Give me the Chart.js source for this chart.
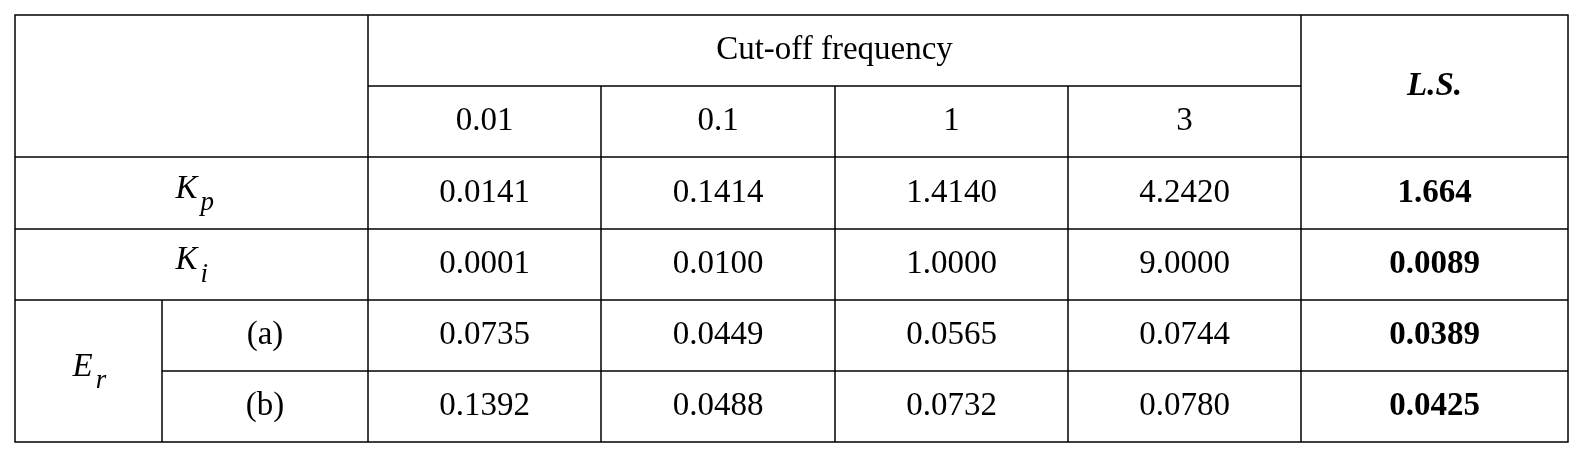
<!DOCTYPE html>
<html>
<head>
<meta charset="utf-8">
<script src="https://cdn.jsdelivr.net/npm/chart.js@4/dist/chart.umd.min.js"></script>
<style>
  html, body { margin: 0; padding: 0; background: #fff; overflow: hidden; }
  #wrap { width: 1585px; height: 450px; position: relative; }
</style>
</head>
<body>
<div id="wrap"><canvas id="tbl" width="1585" height="450"></canvas></div>
<script>
// table data
const frequencies = ['0.01', '0.1', '1', '3'];
const kpValues = ['0.0141', '0.1414', '1.4140', '4.2420'];
const kiValues = ['0.0001', '0.0100', '1.0000', '9.0000'];
const erAValues = ['0.0735', '0.0449', '0.0565', '0.0744'];
const erBValues = ['0.1392', '0.0488', '0.0732', '0.0780'];
const lsValues = ['1.664', '0.0089', '0.0389', '0.0425'];

// grid edges in scale units
const colEdges = [15, 162, 368, 601, 835, 1068, 1301, 1568];
const rowEdges = [15, 86, 157, 229, 300, 371, 442];

const serif = '"Liberation Serif", "DejaVu Serif", serif';

const tablePlugin = {
    id: 'tablePlugin',
    afterDraw(chart) {
        const ctx = chart.ctx;
        const X = v => chart.scales.x.getPixelForValue(v);
        const Y = v => chart.scales.y.getPixelForValue(v);
        const cx = (a, b) => (X(colEdges[a]) + X(colEdges[b])) / 2;
        const cy = (a, b) => (Y(rowEdges[a]) + Y(rowEdges[b])) / 2;

        ctx.save();
        ctx.strokeStyle = '#000';
        ctx.lineWidth = 1.5;
        function line(x1, y1, x2, y2) {
            ctx.beginPath();
            ctx.moveTo(X(x1), Y(y1));
            ctx.lineTo(X(x2), Y(y2));
            ctx.stroke();
        }
        const L = colEdges[0], R = colEdges[7], T = rowEdges[0], B = rowEdges[6];
        ctx.strokeRect(X(L), Y(T), X(R) - X(L), Y(B) - Y(T));
        line(colEdges[2], T, colEdges[2], B);
        line(colEdges[6], T, colEdges[6], B);
        line(colEdges[2], rowEdges[1], colEdges[6], rowEdges[1]);
        for (let c = 3; c <= 5; c++) line(colEdges[c], rowEdges[1], colEdges[c], B);
        line(colEdges[1], rowEdges[4], colEdges[1], B);
        for (let r = 2; r <= 4; r++) line(L, rowEdges[r], R, rowEdges[r]);
        line(colEdges[1], rowEdges[5], R, rowEdges[5]);

        ctx.fillStyle = '#000';
        ctx.textAlign = 'center';
        ctx.textBaseline = 'middle';
        function text(s, x, y, font) {
            ctx.font = font || ('33px ' + serif);
            ctx.fillText(s, x, y);
        }
        function sub(base, s, x, y) {
            ctx.font = 'italic 33px ' + serif;
            const w = ctx.measureText(base).width;
            ctx.textAlign = 'left';
            ctx.fillText(base, x - 16, y - 4);
            ctx.font = 'italic 27px ' + serif;
            ctx.fillText(s, x - 16 + w + 3, y + 10);
            ctx.textAlign = 'center';
        }

        text('Cut-off frequency', cx(2, 6), cy(0, 1));
        text('L.S.', cx(6, 7), cy(0, 2), 'italic bold 33px ' + serif);
        frequencies.forEach((f, i) => text(f, cx(2 + i, 3 + i), cy(1, 2)));

        sub('K', 'p', cx(0, 2), cy(2, 3));
        sub('K', 'i', cx(0, 2), cy(3, 4));
        sub('E', 'r', cx(0, 1), cy(4, 6));
        text('(a)', cx(1, 2), cy(4, 5));
        text('(b)', cx(1, 2), cy(5, 6));

        [kpValues, kiValues, erAValues, erBValues].forEach((row, r) => {
            row.forEach((v, i) => text(v, cx(2 + i, 3 + i), cy(2 + r, 3 + r)));
            text(lsValues[r], cx(6, 7), cy(2 + r, 3 + r), 'bold 33px ' + serif);
        });
        ctx.restore();
    }
};

new Chart(document.getElementById('tbl').getContext('2d'), {
    type: 'scatter',
    data: { datasets: [] },
    options: {
        responsive: false,
        animation: false,
        layout: { padding: 0 },
        plugins: { legend: { display: false }, tooltip: { enabled: false } },
        scales: {
            x: { type: 'linear', min: 0, max: 1585, display: false },
            y: { type: 'linear', min: 0, max: 450, reverse: true, display: false }
        }
    },
    plugins: [tablePlugin]
});
</script>
</body>
</html>
